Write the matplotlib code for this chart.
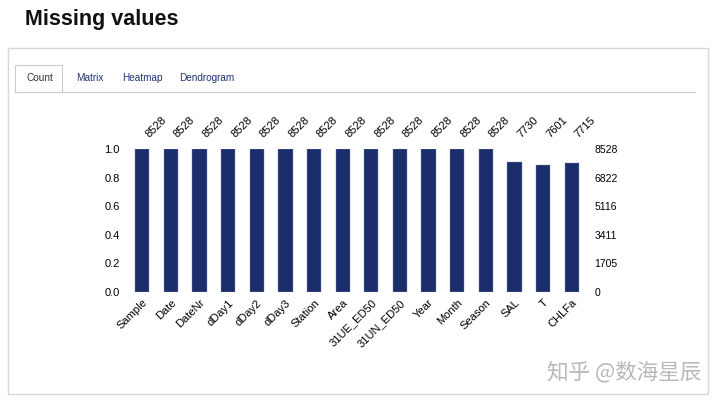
import matplotlib
matplotlib.use("Agg")
import matplotlib.pyplot as plt
import matplotlib.transforms as mtransforms
from matplotlib.patches import Rectangle
from matplotlib.lines import Line2D
import numpy as np

columns = ["Sample", "Date", "DateNr", "dDay1", "dDay2", "dDay3", "Station", "Area",
           "31UE_ED50", "31UN_ED50", "Year", "Month", "Season", "SAL", "T", "CHLFa"]
counts = [8528, 8528, 8528, 8528, 8528, 8528, 8528, 8528,
          8528, 8528, 8528, 8528, 8528, 7730, 7601, 7715]
tabs = ["Count", "Matrix", "Heatmap", "Dendrogram"]
total_rows = 8528

W, H = 720, 401
BAR_COLOR = "#1c2d6b"
FONT = ["Liberation Sans", "DejaVu Sans"]

plt.rcParams["font.family"] = FONT

fig = plt.figure(figsize=(W / 100, H / 100), dpi=100)


def fx(x):
    return x / W


def fy(y):
    return 1 - y / H


# page title and panel frame
fig.text(fx(25), fy(19), "Missing values", fontsize=15.5, fontweight="bold",
         va="center", ha="left", color="#111111")
fig.patches.append(Rectangle((fx(8), fy(394)), fx(700), 346 / H, transform=fig.transFigure,
                             fill=False, edgecolor="#d8d8d8", linewidth=1))

# tabs
fig.patches.append(Rectangle((fx(15), fy(92)), fx(47), 27 / H, transform=fig.transFigure,
                             facecolor="white", edgecolor="#cccccc", linewidth=0.8))
fig.lines.append(Line2D([fx(62), fx(695)], [fy(92), fy(92)], transform=fig.transFigure,
                        color="#cccccc", linewidth=0.8))
tab_x = [40, 90, 142, 207]
for name, x in zip(tabs, tab_x):
    fig.text(fx(x), fy(78), name, fontsize=7.2, ha="center", va="center",
             color="#333333" if name == "Count" else "#1f3570")

# bar chart
n = len(columns)
ax = fig.add_axes([fx(128), fy(292), (586 - 128) / W, (292 - 149) / H])
x = np.arange(n)
frac = np.array(counts) / total_rows
ax.bar(x, frac, width=0.5, color=BAR_COLOR, edgecolor="#8090b8", linewidth=0.3)
ax.set_xlim(-0.5, n - 0.5)
ax.set_ylim(0, 1)
ax.set_xticks(x)
ax.set_xticklabels(columns, rotation=45, ha="right", fontsize=8, rotation_mode="anchor")
shift = mtransforms.ScaledTranslation(-3 / 72, 0, fig.dpi_scale_trans)
for lbl in ax.get_xticklabels():
    lbl.set_transform(lbl.get_transform() + shift)
yt = [0.0, 0.2, 0.4, 0.6, 0.8, 1.0]
ax.set_yticks(yt)
ax.set_yticklabels([f"{v:.1f}" for v in yt], fontsize=8)
ax.tick_params(axis="y", length=0, pad=6)
ax.tick_params(axis="x", length=0, pad=4)
for s in ax.spines.values():
    s.set_visible(False)

ax2 = ax.twinx()
ax2.set_ylim(0, 1)
ax2.set_yticks(yt)
ax2.set_yticklabels([str(int(v * total_rows)) for v in yt], fontsize=7.5)
ax2.tick_params(length=0, pad=6)
for s in ax2.spines.values():
    s.set_visible(False)

# counts above the bars
for i, c in enumerate(counts):
    ax.annotate(str(c), xy=(i, 1.0), xycoords=("data", "axes fraction"),
                xytext=(6, 7), textcoords="offset points", rotation=45,
                rotation_mode="anchor", ha="left", va="bottom", fontsize=8,
                annotation_clip=False)

# watermark
fig.text(fx(701), fy(372), "知乎 @数海星辰", fontsize=15.5, ha="right", va="center",
         color="#b8b8b8", family=["Noto Sans CJK SC", "DejaVu Sans"])

fig.savefig("out.png", dpi=100)
